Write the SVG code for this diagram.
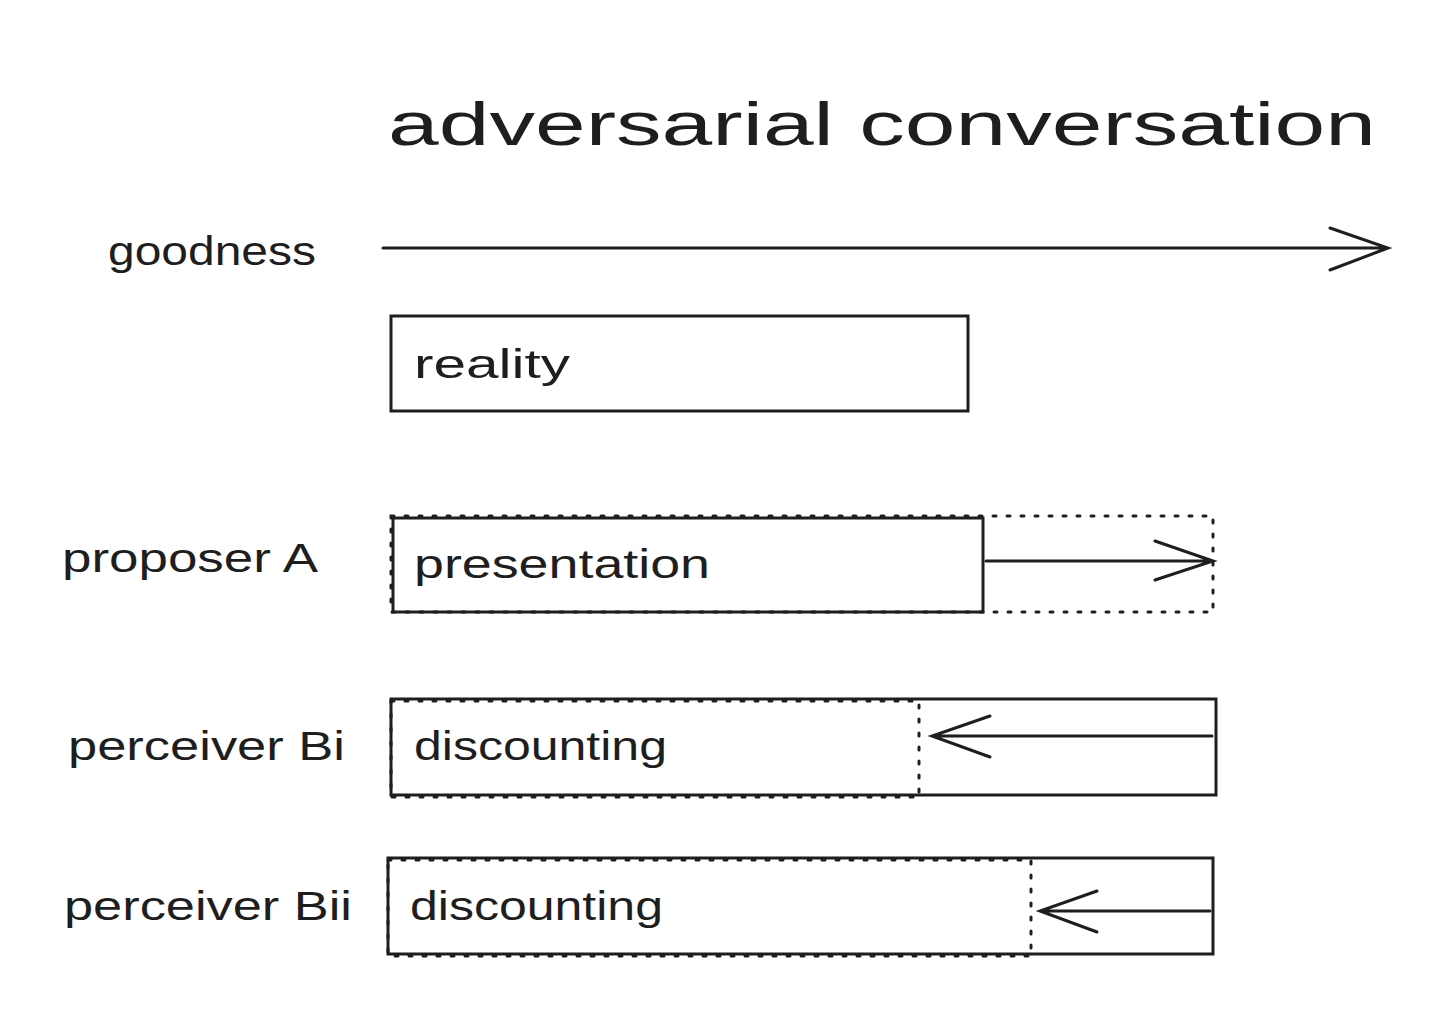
<svg xmlns="http://www.w3.org/2000/svg" width="1456" height="1033" viewBox="0 0 1456 1033">
<style>
.t{font-family:"Liberation Sans",sans-serif;fill:#1e1e1e}
.b{fill:none;stroke:#1e1e1e;stroke-width:3}
.d{fill:none;stroke:#1e1e1e;stroke-width:3;stroke-dasharray:3 11;stroke-linecap:round}
.l{fill:none;stroke:#1e1e1e;stroke-width:3;stroke-linecap:round}
</style>
<rect width="1456" height="1033" fill="#fff"/>
<text class="t" x="388" y="145" font-size="62" textLength="988" lengthAdjust="spacingAndGlyphs">adversarial conversation</text>
<g id="labels">
<text class="t" x="108" y="265" font-size="40" textLength="208" lengthAdjust="spacingAndGlyphs">goodness</text>
<text class="t" x="62" y="572" font-size="40" textLength="256" lengthAdjust="spacingAndGlyphs">proposer A</text>
<text class="t" x="68" y="760" font-size="40" textLength="277" lengthAdjust="spacingAndGlyphs">perceiver Bi</text>
<text class="t" x="64" y="920" font-size="40" textLength="288" lengthAdjust="spacingAndGlyphs">perceiver Bii</text>
</g>
<g id="reality"><rect class="b" x="391" y="316" width="577" height="95"/><text class="t" x="414" y="378" font-size="40" textLength="156" lengthAdjust="spacingAndGlyphs">reality</text></g>
<g id="presentation"><rect class="d" x="391" y="516" width="822" height="96"/><rect class="b" x="393" y="518" width="590" height="94"/><text class="t" x="414" y="578" font-size="40" textLength="296" lengthAdjust="spacingAndGlyphs">presentation</text></g>
<g id="bi"><rect class="b" x="391" y="699" width="825" height="96"/><rect class="d" x="391" y="701" width="528" height="96"/><text class="t" x="414" y="760" font-size="40" textLength="253" lengthAdjust="spacingAndGlyphs">discounting</text></g>
<g id="bii"><rect class="b" x="388" y="858" width="825" height="96"/><rect class="d" x="388" y="860" width="643" height="96"/><text class="t" x="410" y="920" font-size="40" textLength="253" lengthAdjust="spacingAndGlyphs">discounting</text></g>
<g id="connectors">
<path class="l" d="M383 248H1388M1330 228L1388 248L1330 270"/>
<path class="l" d="M986 561H1213M1155 541L1213 561L1155 580"/>
<path class="l" d="M1212 736H932M990 716L932 736L990 757"/>
<path class="l" d="M1210 911H1040M1097 891L1040 911L1097 932"/>
</g>
</svg>
